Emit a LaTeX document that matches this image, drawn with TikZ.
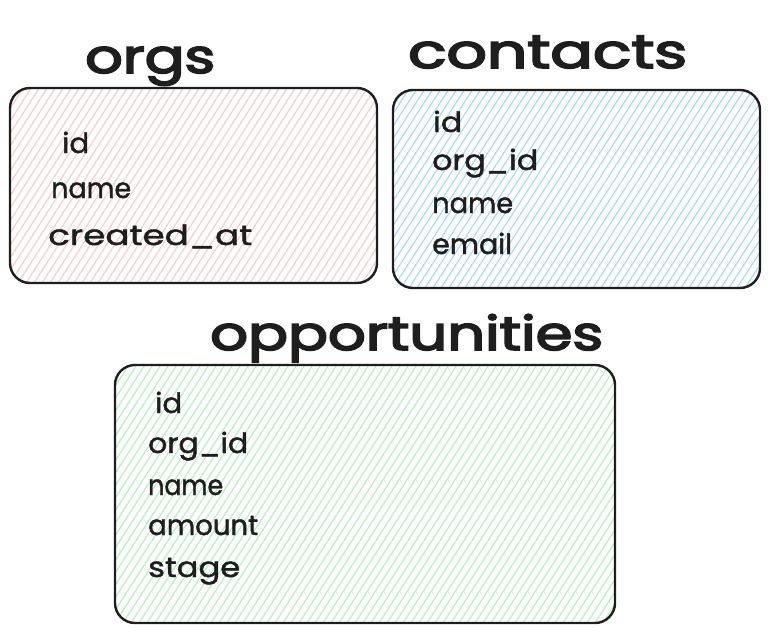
\documentclass[tikz,border=0pt]{standalone}
\usepackage{fontspec}
\setmainfont{Poppins}
\newfontfamily\fldfont{Poppins}[FakeBold=1.5]
\newfontfamily\ttlfont{Poppins}[FakeBold=3.5]
\usepackage{graphicx}
\definecolor{ink}{HTML}{1E1E1E}
\definecolor{pinkfill}{HTML}{FFC9C9}
\definecolor{bluefill}{HTML}{A5D8FF}
\definecolor{greenfill}{HTML}{B2F2BB}
\newcommand{\fldtxt}[2]{\resizebox{#1pt}{\height}{\fontsize{28}{32}\fldfont #2}}
\newcommand{\ttltxt}[2]{\resizebox{#1pt}{\height}{\fontsize{47}{50}\ttlfont #2}}
\tikzset{
  tablebox/.style n args={3}{draw=ink, line width=2.4pt, rounded corners=20pt,
    inner sep=0pt, outer sep=0pt, minimum width=#1pt, minimum height=#2pt,
    path picture={
      \foreach \i in {-25,...,70}
        \draw[#3, line width=1.1pt]
          ([xshift=\i*8pt]path picture bounding box.south west) -- ++(180,-280);
    }},
  title/.style={anchor=base west, inner sep=0pt, text=ink},
  field/.style={anchor=base west, inner sep=0pt, text=ink}
}
\begin{document}
\begin{tikzpicture}[x=1pt,y=-1pt]
\useasboundingbox (0,0) rectangle (770,634);
% boxes
\node[tablebox={367}{195}{pinkfill}] (orgsbox) at (193.5,185.5) {};
\node[tablebox={367}{198}{bluefill}] (contactsbox) at (576.5,189) {};
\node[tablebox={500}{258}{greenfill}] (oppsbox) at (365,494) {};
% titles
\node[title] (orgst) at (85,73) {\ttltxt{130}{orgs}};
\node[title] (contactst) at (408,68) {\ttltxt{279}{contacts}};
\node[title] (oppst) at (210,350) {\ttltxt{393}{opportunities}};
% orgs fields
\node[field] (o1) at (62,153) {\fldtxt{27}{id}};
\node[field] (o2) at (51,198) {\fldtxt{80}{name}};
\node[field] (o3) at (48,245) {\fldtxt{204}{created\_at}};
% contacts fields
\node[field] (c1) at (433,132) {\fldtxt{29}{id}};
\node[field] (c2) at (432,170) {\fldtxt{106}{org\_id}};
\node[field] (c3) at (432,213) {\fldtxt{81}{name}};
\node[field] (c4) at (432,254) {\fldtxt{80}{email}};
% opportunities fields
\node[field] (p1) at (155,413) {\fldtxt{27}{id}};
\node[field] (p2) at (148,453) {\fldtxt{100}{org\_id}};
\node[field] (p3) at (148,495) {\fldtxt{75}{name}};
\node[field] (p4) at (148,535) {\fldtxt{110}{amount}};
\node[field] (p5) at (148,577) {\fldtxt{92}{stage}};
\end{tikzpicture}
\end{document}
